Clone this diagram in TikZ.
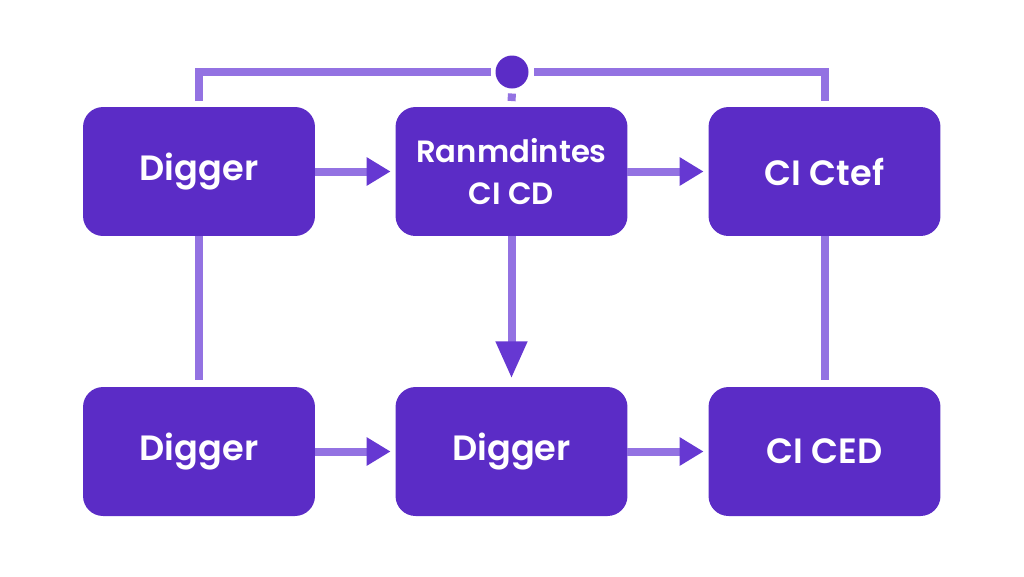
\documentclass[tikz,border=0pt]{standalone}
\usepackage{fontspec}
\setmainfont{Poppins}[BoldFont={Poppins SemiBold}]
\usetikzlibrary{arrows.meta}
\definecolor{boxfill}{HTML}{5B2CC6}
\definecolor{linkcol}{HTML}{9372E2}
\definecolor{tipcol}{HTML}{6638D2}

\begin{document}
\begin{tikzpicture}[x={(0.02cm,0cm)},y={(0cm,-0.02cm)},
  stage/.style={fill=boxfill, text=white, rounded corners=0.4cm, minimum width=4.64cm, minimum height=2.58cm, align=center, font=\fontsize{20}{24}\selectfont\bfseries, outer sep=0pt},
  link/.style={draw=linkcol, line width=0.16cm},
  flow/.style={link, -{Triangle[length=13.6pt, width=15.3pt, color=tipcol]}, shorten >=2.8pt},
  joint/.style={circle, fill=boxfill, minimum size=0.66cm, inner sep=0pt, outer sep=0.1cm}]
\useasboundingbox (0,0) rectangle (1024,576);
\node[stage] (dig1) at (199,171.5) {Digger};
\node[stage, font=\fontsize{17.5}{24.4}\selectfont\bfseries] (ranm) at (511.5,171.5) {Ranmdintes\\CI CD};
\node[stage] (ctef) at (824.5,171.5) {CI Ctef};
\node[stage] (dig2) at (199,451.5) {Digger};
\node[stage] (dig3) at (511.5,451.5) {Digger};
\node[stage] (ced) at (824.5,451.5) {CI CED};
\node[joint] (hub) at (512,72) {};
% top bus
\draw[link] ([yshift=0.12cm]dig1.north) |- (hub.west);
\draw[link] ([yshift=0.12cm]ctef.north) |- (hub.east);
\draw[link] (hub.south) -- ([yshift=0.12cm]ranm.north);
% side lines
\draw[link, shorten >=0.14cm] (dig1.south) -- (dig2.north);
\draw[link, shorten >=0.14cm] (ctef.south) -- (ced.north);
% arrows
\draw[flow] (dig1.east) -- (ranm.west);
\draw[flow] (ranm.east) -- (ctef.west);
\draw[flow] (dig2.east) -- (dig3.west);
\draw[flow] (dig3.east) -- (ced.west);
\draw[link, -{Triangle[length=21pt, width=17pt, color=tipcol]}, shorten >=5pt] (ranm.south) -- (dig3.north);
\end{tikzpicture}
\end{document}
